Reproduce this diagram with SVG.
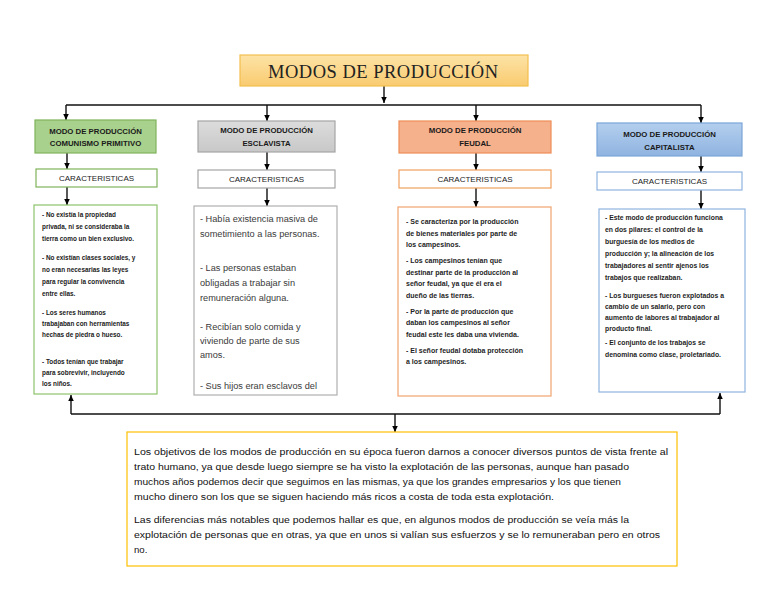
<svg xmlns="http://www.w3.org/2000/svg" width="768" height="594" viewBox="0 0 768 594">
<defs>
<linearGradient id="gTitle" x1="0" y1="0" x2="0" y2="1"><stop offset="0" stop-color="#fde3a6"/><stop offset="1" stop-color="#f9cb70"/></linearGradient>
<linearGradient id="gBlue" x1="0" y1="0" x2="0" y2="1"><stop offset="0" stop-color="#b4cfee"/><stop offset="1" stop-color="#8fb3e0"/></linearGradient>
<linearGradient id="gGray" x1="0" y1="0" x2="0" y2="1"><stop offset="0" stop-color="#dcdcdc"/><stop offset="1" stop-color="#c8c8c8"/></linearGradient>
<marker id="ah" markerUnits="userSpaceOnUse" markerWidth="6" markerHeight="7" refX="6" refY="2.75" orient="auto"><path d="M0,0 L6,2.75 L0,5.5 z" fill="#000"/></marker>
</defs>
<style>
.bg{fill:#ffffff}
.conn path{fill:none;stroke:#111;stroke-width:1.4}
.conn .arr{marker-end:url(#ah)}
.hdr{font-family:"Liberation Sans",Arial,sans-serif;font-weight:bold;font-size:7.8px;fill:#1a1a1a;text-anchor:middle}
.car{font-family:"Liberation Sans",Arial,sans-serif;font-size:8px;fill:#222;text-anchor:middle}
.t1{font-family:"Liberation Sans",Arial,sans-serif;font-weight:bold;font-size:6.4px;fill:#1a1a1a}
.t2{font-family:"Liberation Sans",Arial,sans-serif;font-size:9.2px;fill:#3a3a3a}
.t3{font-family:"Liberation Sans",Arial,sans-serif;font-weight:bold;font-size:7px;fill:#1e1e1e}
.t4{font-family:"Liberation Sans",Arial,sans-serif;font-weight:bold;font-size:6.8px;fill:#1e1e1e}
.tb{font-family:"Liberation Sans",Arial,sans-serif;font-size:9.6px;fill:#111}
.box{fill:#fff;stroke-width:1.2}
</style>
<rect class="bg" x="0" y="0" width="768" height="594"/>

<g id="connectors" class="conn">
<path class="arr" d="M384 86 V103"/>
<path d="M66 105 H701"/>
<path class="arr" d="M66 105 V120"/>
<path class="arr" d="M267 105 V121"/>
<path class="arr" d="M476 105 V121"/>
<path class="arr" d="M701 105 V123"/>
<path class="arr" d="M67 153 V169"/>
<path class="arr" d="M267 152 V170"/>
<path class="arr" d="M476 153 V170"/>
<path class="arr" d="M701 156 V172"/>
<path class="arr" d="M67 187 V205"/>
<path class="arr" d="M267 188 V206"/>
<path class="arr" d="M476 188 V207"/>
<path class="arr" d="M701 190 V209"/>
<path d="M71 414 H720"/>
<path class="arr" d="M71 414 V395"/>
<path class="arr" d="M720 414 V393"/>
<path class="arr" d="M395 414 V432"/>
</g>

<g id="title">
<rect x="240" y="55" width="288" height="31" fill="url(#gTitle)" stroke="#f2bf4e" stroke-width="1.2"/>
<text x="268" y="78" font-family="'Liberation Serif','Times New Roman',serif" font-size="18.5" fill="#222" textLength="230" lengthAdjust="spacing">MODOS DE PRODUCCIÓN</text>
</g>

<g id="col1-header">
<rect x="35" y="120" width="121" height="33" fill="#a9d18e" stroke="#7fb35a" stroke-width="1.2"/>
<text class="hdr" x="95.5" y="134">MODO DE PRODUCCIÓN</text>
<text class="hdr" x="95.5" y="146">COMUNISMO PRIMITIVO</text>
</g>
<g id="col1-car">
<rect class="box" x="36" y="169" width="121" height="18" stroke="#7fb35a"/>
<text class="car" x="96.5" y="181">CARACTERISTICAS</text>
</g>
<g id="col1-content">
<rect class="box" x="34" y="205" width="123" height="189" stroke="#8cc46a"/>
<text class="t1" x="42" y="217">- No existía la propiedad</text>
<text class="t1" x="42" y="229">privada, ni se consideraba la</text>
<text class="t1" x="42" y="241">tierra como un bien exclusivo.</text>
<text class="t1" x="42" y="260">- No existían clases sociales, y</text>
<text class="t1" x="42" y="272">no eran necesarias las leyes</text>
<text class="t1" x="42" y="284">para regular la convivencia</text>
<text class="t1" x="42" y="296">entre ellas.</text>
<text class="t1" x="42" y="315">- Los seres humanos</text>
<text class="t1" x="42" y="326">trabajaban con herramientas</text>
<text class="t1" x="42" y="337">hechas de piedra o hueso.</text>
<text class="t1" x="42" y="364">- Todos tenían que trabajar</text>
<text class="t1" x="42" y="375">para sobrevivir, incluyendo</text>
<text class="t1" x="42" y="386">los niños.</text>
</g>

<g id="col2-header">
<rect x="198" y="121" width="137" height="31" fill="url(#gGray)" stroke="#a5a5a5" stroke-width="1.2"/>
<text class="hdr" x="266.5" y="133">MODO DE PRODUCCIÓN</text>
<text class="hdr" x="266.5" y="146">ESCLAVISTA</text>
</g>
<g id="col2-car">
<rect class="box" x="198" y="170" width="137" height="18" stroke="#a5a5a5"/>
<text class="car" x="266.5" y="182">CARACTERISTICAS</text>
</g>
<g id="col2-content">
<rect class="box" x="194" y="206" width="143" height="189" stroke="#b0b0b0"/>
<text class="t2" x="200" y="222">- Había existencia masiva de</text>
<text class="t2" x="200" y="237">sometimiento a las personas.</text>
<text class="t2" x="200" y="271">- Las personas estaban</text>
<text class="t2" x="200" y="286">obligadas a trabajar sin</text>
<text class="t2" x="200" y="301">remuneración alguna.</text>
<text class="t2" x="200" y="330">- Recibían solo comida y</text>
<text class="t2" x="200" y="344">viviendo de parte de sus</text>
<text class="t2" x="200" y="358">amos.</text>
<text class="t2" x="200" y="389">- Sus hijos eran esclavos del</text>
</g>

<g id="col3-header">
<rect x="399" y="121" width="152" height="32" fill="#f5b08c" stroke="#ee8d55" stroke-width="1.2"/>
<text class="hdr" x="475" y="133">MODO DE PRODUCCIÓN</text>
<text class="hdr" x="475" y="146">FEUDAL</text>
</g>
<g id="col3-car">
<rect class="box" x="399" y="170" width="152" height="18" stroke="#f0a060"/>
<text class="car" x="475" y="182">CARACTERISTICAS</text>
</g>
<g id="col3-content">
<rect class="box" x="398" y="207" width="153" height="189" stroke="#f2a46e"/>
<text class="t3" x="406" y="224">- Se caracteriza por la producción</text>
<text class="t3" x="406" y="235.5">de bienes materiales por parte de</text>
<text class="t3" x="406" y="247">los campesinos.</text>
<text class="t3" x="406" y="263">- Los campesinos tenían que</text>
<text class="t3" x="406" y="274.5">destinar parte de la producción al</text>
<text class="t3" x="406" y="286">señor feudal, ya que él era el</text>
<text class="t3" x="406" y="297.5">dueño de las tierras.</text>
<text class="t3" x="406" y="313.5">- Por la parte de producción que</text>
<text class="t3" x="406" y="325">daban los campesinos al señor</text>
<text class="t3" x="406" y="336.5">feudal este les daba una vivienda.</text>
<text class="t3" x="406" y="352.5">- El señor feudal dotaba protección</text>
<text class="t3" x="406" y="364">a los campesinos.</text>
</g>

<g id="col4-header">
<rect x="597" y="123" width="145" height="33" fill="url(#gBlue)" stroke="#7aa6d8" stroke-width="1.2"/>
<text class="hdr" x="669.5" y="137">MODO DE PRODUCCIÓN</text>
<text class="hdr" x="669.5" y="150">CAPITALISTA</text>
</g>
<g id="col4-car">
<rect class="box" x="597" y="172" width="145" height="18" stroke="#8fb3e0"/>
<text class="car" x="669.5" y="184">CARACTERISTICAS</text>
</g>
<g id="col4-content">
<rect class="box" x="599" y="209" width="146" height="183" stroke="#8fb3e0"/>
<text class="t4" x="605" y="220">- Este modo de producción funciona</text>
<text class="t4" x="605" y="232">en dos pilares: el control de la</text>
<text class="t4" x="605" y="244">burguesía de los medios de</text>
<text class="t4" x="605" y="256">producción y; la alineación de los</text>
<text class="t4" x="605" y="268">trabajadores al sentir ajenos los</text>
<text class="t4" x="605" y="280">trabajos que realizaban.</text>
<text class="t4" x="605" y="298">- Los burgueses fueron explotados a</text>
<text class="t4" x="605" y="309">cambio de un salario, pero con</text>
<text class="t4" x="605" y="320">aumento de labores al trabajador al</text>
<text class="t4" x="605" y="331">producto final.</text>
<text class="t4" x="605" y="345">- El conjunto de los trabajos se</text>
<text class="t4" x="605" y="357">denomina como clase, proletariado.</text>
</g>

<g id="conclusion">
<rect class="box" x="127" y="432" width="550" height="134" stroke="#ffc000"/>
<text class="tb" x="134" y="455" textLength="534" lengthAdjust="spacingAndGlyphs">Los objetivos de los modos de producción en su época fueron darnos a conocer diversos puntos de vista frente al</text>
<text class="tb" x="134" y="470" textLength="495" lengthAdjust="spacingAndGlyphs">trato humano, ya que desde luego siempre se ha visto la explotación de las personas, aunque han pasado</text>
<text class="tb" x="134" y="485" textLength="487" lengthAdjust="spacingAndGlyphs">muchos años podemos decir que seguimos en las mismas, ya que los grandes empresarios y los que tienen</text>
<text class="tb" x="134" y="500" textLength="420" lengthAdjust="spacingAndGlyphs">mucho dinero son los que se siguen haciendo más ricos a costa de toda esta explotación.</text>
<text class="tb" x="134" y="523" textLength="495" lengthAdjust="spacingAndGlyphs">Las diferencias más notables que podemos hallar es que, en algunos modos de producción se veía más la</text>
<text class="tb" x="134" y="538" textLength="526" lengthAdjust="spacingAndGlyphs">explotación de personas que en otras, ya que en unos si valían sus esfuerzos y se lo remuneraban pero en otros</text>
<text class="tb" x="134" y="553">no.</text>
</g>
</svg>
